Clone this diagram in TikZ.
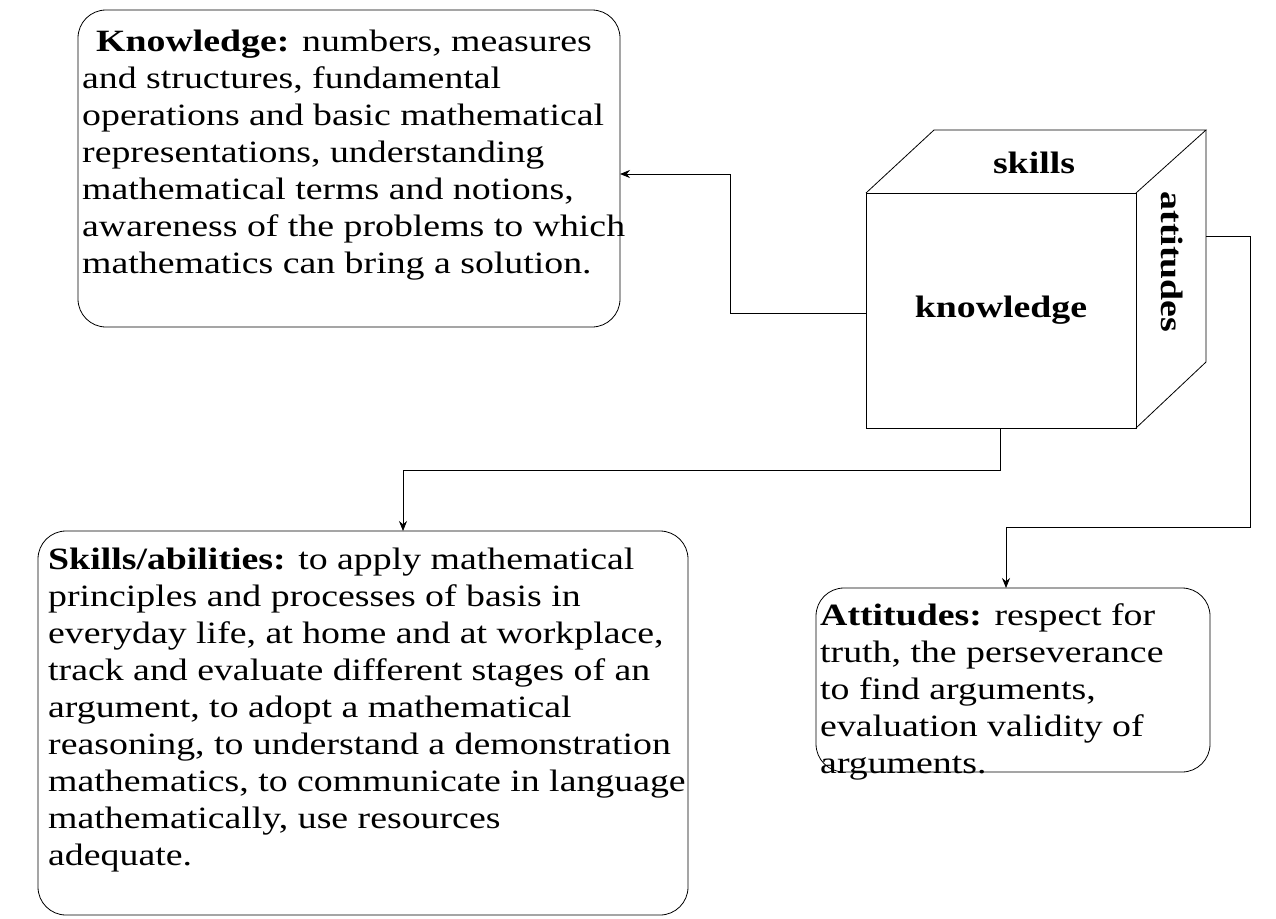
\documentclass[tikz,border=0pt]{standalone}
\usepackage{fontspec}
\usetikzlibrary{arrows.meta}
\setmainfont[FakeStretch=1.22]{Liberation Serif}
\begin{document}
\begin{tikzpicture}[x=1pt,y=-1pt,
  box/.style={draw,thick,rounded corners=28pt,inner sep=0pt},
  txt/.style={anchor=north west,align=left,inner sep=0pt,font=\fontsize{31}{37}\selectfont},
  conn/.style={draw,thick,-{Stealth[length=10pt,width=8pt]}},
  lab/.style={font=\bfseries\fontsize{31}{34}\selectfont}]
\useasboundingbox (0,0) rectangle (1276,918);
% boxes
\node[box,minimum width=542pt,minimum height=317pt] (kb) at (349,168.5) {};
\node[box,minimum width=650pt,minimum height=384pt] (sb) at (363,723) {};
\node[box,minimum width=394pt,minimum height=184pt] (ab) at (1013,680) {};
\node[txt] (kt) at (82,30) {\hspace*{14pt}\textbf{Knowledge:} numbers, measures\\and structures, fundamental\\operations and basic mathematical\\representations, understanding\\mathematical terms and notions,\\awareness of the problems to which\\mathematics can bring a solution.};
\node[txt] (st) at (48,548) {\textbf{Skills/abilities:} to apply mathematical\\principles and processes of basis in\\everyday life, at home and at workplace,\\track and evaluate different stages of an\\argument, to adopt a mathematical\\reasoning, to understand a demonstration\\mathematics, to communicate in language\\mathematically, use resources\\adequate.};
\node[txt] (at) at (820,603) {\textbf{Attitudes:} respect for\\truth, the perseverance\\to find arguments,\\evaluation validity of\\arguments.};
% cube
\coordinate (c1) at (866,193); \coordinate (c2) at (1136,193);
\coordinate (c3) at (1136,428); \coordinate (c4) at (866,428);
\coordinate (b1) at (934,130); \coordinate (b2) at (1206,130);
\coordinate (b3) at (1206,362);
\draw[thick] (c1) rectangle (c3);
\draw[thick] (c1) -- (b1) -- (b2) -- (c2);
\draw[thick] (b2) -- (b3) -- (c3);
\node[lab] (sk) at (1034,163) {skills};
\node[lab] (kn) at (1001,310) {knowledge};
\node[lab,rotate=-90] (att) at (1172,262) {attitudes};
% connectors
\coordinate (p1) at (866,313);
\coordinate (p2) at (1000,428);
\coordinate (p3) at (1206,236);
\coordinate (q1) at (620,174);
\coordinate (q2) at (403,531);
\coordinate (q3) at (1006,588);
\draw[conn] (p1) -- (730,313) |- (q1);
\draw[conn] (p2) -- (1000,470) -| (q2);
\draw[conn] (p3) -- (1250,236) |- (1006,527) -- (q3);
\end{tikzpicture}
\end{document}
